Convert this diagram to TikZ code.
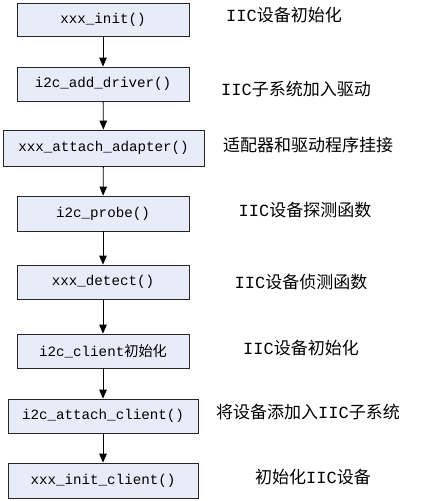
\documentclass[tikz,border=0pt]{standalone}
\usepackage{fontspec}
\setmonofont{Liberation Mono}
\newfontfamily\cjk{Noto Sans CJK SC}
\usetikzlibrary{arrows.meta}
\newcommand\lat[1]{{\ttfamily #1}}
\tikzset{
  fnbox/.style={draw=black!85, fill=boxfill, line width=0.8pt, inner sep=0pt,
    font=\ttfamily\fontsize{14.2}{16}\selectfont},
  lbl/.style={font=\cjk\fontsize{17}{20}\selectfont, inner sep=0pt},
  flow/.style={line width=0.8pt, -{Triangle[length=9pt,width=7.5pt]}}
}
\definecolor{boxfill}{RGB}{232,236,248}
\begin{document}
\begin{tikzpicture}[x=1pt,y=-1pt]
\useasboundingbox (0,0) rectangle (423,501);
\node[fnbox, minimum width=172pt, minimum height=33pt] (b1) at (103,19.5) {xxx\_init()};
\node[fnbox, minimum width=172pt, minimum height=34pt] (b2) at (103,84) {i2c\_add\_driver()};
\node[fnbox, minimum width=201pt, minimum height=36pt] (b3) at (103.5,148) {xxx\_attach\_adapter()};
\node[fnbox, minimum width=172pt, minimum height=35pt] (b4) at (103,213.5) {i2c\_probe()};
\node[fnbox, minimum width=172pt, minimum height=34pt] (b5) at (103,282) {xxx\_detect()};
\node[fnbox, minimum width=172pt, minimum height=34pt] (b6) at (103,351) {i2c\_client{\cjk 初始化}};
\node[fnbox, minimum width=190pt, minimum height=34pt] (b7) at (103,416) {i2c\_attach\_client()};
\node[fnbox, minimum width=190pt, minimum height=35pt] (b8) at (103,480.5) {xxx\_init\_client()};

\draw[flow] (b1) -- (b2);
\draw[flow] (b2) -- (b3);
\draw[flow] (b3) -- (b4);
\draw[flow] (b4) -- (b5);
\draw[flow] (b5) -- (b6);
\draw[flow] (b6) -- (b7);
\draw[flow] (b7) -- (b8);

\node[lbl] (l1) at (284,15) {\lat{IIC}设备初始化};
\node[lbl] (l2) at (296,89) {\lat{IIC}子系统加入驱动};
\node[lbl] (l3) at (308,145) {适配器和驱动程序挂接};
\node[lbl] (l4) at (305,210) {\lat{IIC}设备探测函数};
\node[lbl] (l5) at (301,282) {\lat{IIC}设备侦测函数};
\node[lbl] (l6) at (301,348) {\lat{IIC}设备初始化};
\node[lbl] (l7) at (308,412) {将设备添加入\lat{IIC}子系统};
\node[lbl] (l8) at (313,477) {初始化\lat{IIC}设备};
\end{tikzpicture}
\end{document}
